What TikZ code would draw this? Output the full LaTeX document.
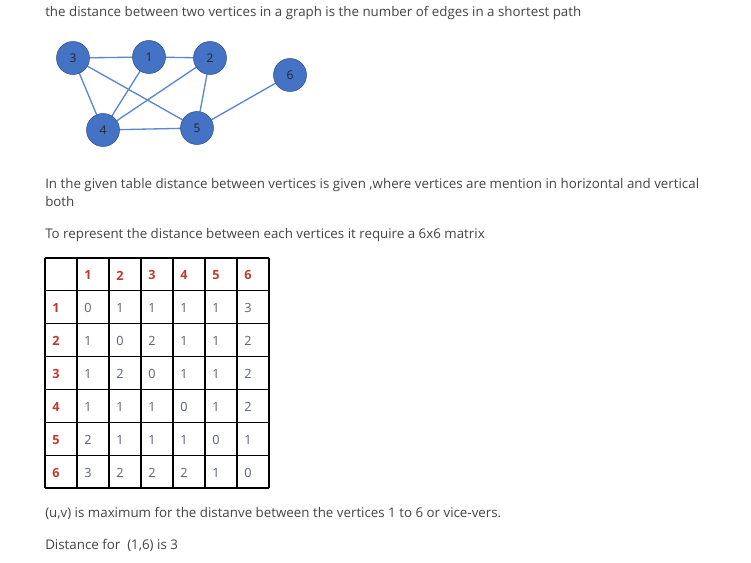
\documentclass[tikz,border=0pt]{standalone}
\usepackage{fontspec}
\setmainfont{Open Sans}
\definecolor{txt}{HTML}{444444}
\definecolor{nodeblue}{HTML}{4472C4}
\definecolor{edgeblue}{HTML}{5B87D0}
\definecolor{hdr}{HTML}{C0392B}
\definecolor{cell}{HTML}{5A6475}
\begin{document}
\begin{tikzpicture}[x=0.75pt,y=-0.75pt,
  vtx/.style={circle,fill=nodeblue,draw=nodeblue!70!black,line width=0.4pt,minimum size=24.75pt,inner sep=0pt,font=\fontsize{9}{10}\selectfont,text=black!85},
  edge/.style={edgeblue,line width=1pt},
  para/.style={anchor=west,text=txt,font=\fontsize{10}{12}\selectfont,inner sep=0pt},
  hd/.style={text=hdr,font=\fontsize{9.5}{11}\selectfont\bfseries,inner sep=0pt},
  cl/.style={text=cell,font=\fontsize{9.5}{11}\selectfont,inner sep=0pt}]
\useasboundingbox (0,0) rectangle (751,563);
\fill[white] (0,0) rectangle (751,563);
\node[para] (t1) at (45,13) {the distance between two vertices in a graph is the number of edges in a shortest path};
\coordinate (p3) at (73,58);
\coordinate (p1) at (149,57);
\coordinate (p2) at (210,58);
\coordinate (p6) at (290,75);
\coordinate (p4) at (103,130);
\coordinate (p5) at (197,128);
\draw[edge] (p3)--(p1) (p1)--(p2) (p3)--(p4) (p3)--(p5) (p1)--(p4) (p2)--(p4) (p2)--(p5) (p4)--(p5) (p5)--(p6);
\node[vtx] (v3) at (p3) {3};
\node[vtx] (v1) at (p1) {1};
\node[vtx] (v2) at (p2) {2};
\node[vtx] (v6) at (p6) {6};
\node[vtx] (v4) at (p4) {4};
\node[vtx] (v5) at (p5) {5};
\node[para] (t2) at (45,185) {In the given table distance between vertices is given ,where vertices are mention in horizontal and vertical};
\node[para] (t3) at (45,202) {both};
\node[para] (t4) at (45,235) {To represent the distance between each vertices it require a 6x6 matrix};
\foreach \i in {0,...,7}{
  \draw[line width=0.9pt] ({45+32*\i},258)--({45+32*\i},488);
  \draw[line width=0.9pt] (45,{258+230/7*\i})--(269,{258+230/7*\i});
}
\foreach \r/\row in {1/{0,1,1,1,1,3},2/{1,0,2,1,1,2},3/{1,2,0,1,1,2},4/{1,1,1,0,1,2},5/{2,1,1,1,0,1},6/{3,2,2,2,1,0}}{
  \node[hd] (r\r) at (56,{258+230/7*(\r+0.5)+1}) {\r};
  \foreach \v [count=\c] in \row {
    \node[cl] (c\r\c) at ({45+32*\c+11},{258+230/7*(\r+0.5)+1}) {\v};
  }
}
\foreach \c in {1,...,6}{
  \node[hd] (h\c) at ({45+32*\c+11},{258+230/14+1}) {\c};
}
\node[para] (t5) at (45,513) {(u,v) is maximum for the distanve between the vertices 1 to 6 or vice-vers.};
\node[para] (t6) at (45,545) {Distance for~ (1,6) is 3};
\end{tikzpicture}
\end{document}
